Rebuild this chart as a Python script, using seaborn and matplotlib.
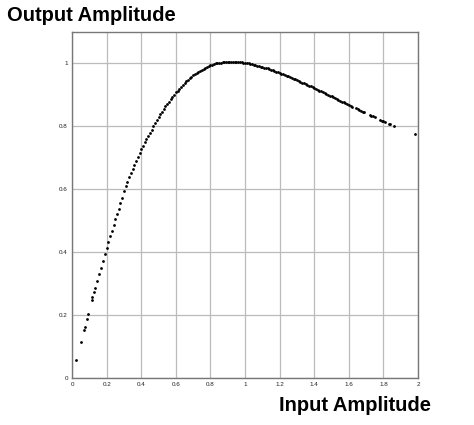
import numpy as np
import pandas as pd
import matplotlib
matplotlib.use("Agg")
import matplotlib.pyplot as plt
import seaborn as sns

# input / output amplitude samples (AM/AM curve)
input_amp = [0.021, 0.052, 0.069, 0.075, 0.089, 0.094, 0.114, 0.118, 0.129, 0.135,
             0.146, 0.158, 0.17, 0.18, 0.19, 0.20, 0.21, 0.22, 0.23, 0.24, 0.25,
             0.26, 0.27, 0.28, 0.29, 0.30, 0.31, 0.32, 0.33, 0.34, 0.35, 0.36,
             0.37, 0.38, 0.39, 0.40, 0.41, 0.42, 0.43, 0.44, 0.45, 0.46, 0.47,
             0.48, 0.49, 0.50, 0.51, 0.52, 0.53, 0.54, 0.55, 0.56, 0.57, 0.58,
             0.59, 0.60, 0.61, 0.62, 0.63, 0.64, 0.65, 0.66, 0.67, 0.68, 0.69,
             0.70, 0.71, 0.72, 0.73, 0.74, 0.75, 0.76, 0.77, 0.78, 0.79, 0.80,
             0.81, 0.82, 0.83, 0.84, 0.85, 0.86, 0.87, 0.88, 0.89, 0.90, 0.91,
             0.92, 0.93, 0.94, 0.95, 0.96, 0.97, 0.98, 0.99, 1.00, 1.01, 1.02,
             1.03, 1.04, 1.05, 1.06, 1.07, 1.08, 1.09, 1.10, 1.11, 1.12, 1.13,
             1.14, 1.15, 1.16, 1.17, 1.18, 1.19, 1.20, 1.21, 1.22, 1.23, 1.24,
             1.25, 1.26, 1.27, 1.28, 1.29, 1.30, 1.31, 1.32, 1.33, 1.34, 1.35,
             1.36, 1.37, 1.38, 1.39, 1.40, 1.41, 1.42, 1.43, 1.44, 1.45, 1.46,
             1.47, 1.48, 1.49, 1.50, 1.51, 1.52, 1.53, 1.54, 1.55, 1.56, 1.57,
             1.58, 1.59, 1.60, 1.61, 1.62, 1.64, 1.65, 1.66, 1.67, 1.68, 1.69,
             1.72, 1.73, 1.74, 1.75, 1.78, 1.79, 1.80, 1.81, 1.83, 1.84, 1.86,
             1.98]
output_amp = [0.057, 0.115, 0.152, 0.162, 0.187, 0.202, 0.248, 0.256, 0.274, 0.285,
              0.308, 0.330, 0.350, 0.372, 0.393, 0.412, 0.431, 0.450, 0.468, 0.486, 0.504,
              0.521, 0.538, 0.555, 0.571, 0.595, 0.610, 0.624, 0.638, 0.652, 0.665, 0.678,
              0.691, 0.703, 0.715, 0.727, 0.738, 0.749, 0.760, 0.770, 0.780, 0.790, 0.800,
              0.810, 0.820, 0.829, 0.838, 0.847, 0.855, 0.864, 0.872, 0.879, 0.887, 0.894,
              0.901, 0.908, 0.914, 0.920, 0.926, 0.932, 0.938, 0.943, 0.948, 0.953, 0.958,
              0.962, 0.966, 0.970, 0.974, 0.977, 0.980, 0.983, 0.986, 0.989, 0.992, 0.994,
              0.996, 0.998, 1.000, 1.001, 1.002, 1.003, 1.004, 1.005, 1.006, 1.006, 1.006,
              1.006, 1.006, 1.006, 1.005, 1.005, 1.004, 1.004, 1.003, 1.002, 1.001, 1.000,
              0.999, 0.998, 0.996, 0.995, 0.993, 0.992, 0.990, 0.989, 0.987, 0.986, 0.984,
              0.982, 0.980, 0.978, 0.976, 0.974, 0.972, 0.970, 0.968, 0.966, 0.963, 0.961,
              0.959, 0.957, 0.954, 0.952, 0.949, 0.947, 0.944, 0.942, 0.939, 0.937, 0.934,
              0.932, 0.929, 0.927, 0.924, 0.922, 0.919, 0.916, 0.914, 0.911, 0.908, 0.906,
              0.903, 0.900, 0.898, 0.895, 0.892, 0.890, 0.887, 0.884, 0.882, 0.879, 0.876,
              0.874, 0.871, 0.868, 0.866, 0.863, 0.858, 0.855, 0.853, 0.850, 0.847, 0.845,
              0.837, 0.834, 0.832, 0.829, 0.821, 0.818, 0.816, 0.813, 0.808, 0.806, 0.802,
              0.777]

x_ticks = [0, 0.2, 0.4, 0.6, 0.8, 1, 1.2, 1.4, 1.6, 1.8, 2]
x_tick_labels = ["0", "0.2", "0.4", "0.6", "0.8", "1", "1.2", "1.4", "1.6", "1.8", "2"]
y_ticks = [0, 0.2, 0.4, 0.6, 0.8, 1]
y_tick_labels = ["0", "0.2", "0.4", "0.6", "0.8", "1"]

df = pd.DataFrame({"inp": input_amp, "out": output_amp})

sns.set_style("whitegrid")
plt.rcParams['font.family'] = ['Liberation Sans', 'DejaVu Sans']

fig = plt.figure(figsize=(4.74, 4.25), dpi=100)
ax = fig.add_axes([0.152, 0.1106, 0.730, 0.8141])

sns.scatterplot(data=df, x="inp", y="out", ax=ax, s=4, color="black",
                linewidth=0, legend=False)

ax.set_xlim(0, 2)
ax.set_ylim(0, 1.1)
ax.set_xticks(x_ticks)
ax.set_xticklabels(x_tick_labels)
ax.set_yticks(y_ticks)
ax.set_yticklabels(y_tick_labels)
ax.tick_params(labelsize=4.5, colors="#222222", length=2, direction="in", pad=3)
ax.grid(True, color="#bbbbbb", linewidth=0.9)
for sp in ax.spines.values():
    sp.set_visible(True)
    sp.set_color("#777777")
    sp.set_linewidth(1.0)
ax.set_xlabel("")
ax.set_ylabel("")

fig.text(0.015, 0.963, "Output Amplitude", fontsize=14.5, fontweight="bold",
         color="black", ha="left", va="center")
fig.text(0.909, 0.047, "Input Amplitude", fontsize=14.5, fontweight="bold",
         color="black", ha="right", va="center")

fig.savefig("out.png", dpi=100)
